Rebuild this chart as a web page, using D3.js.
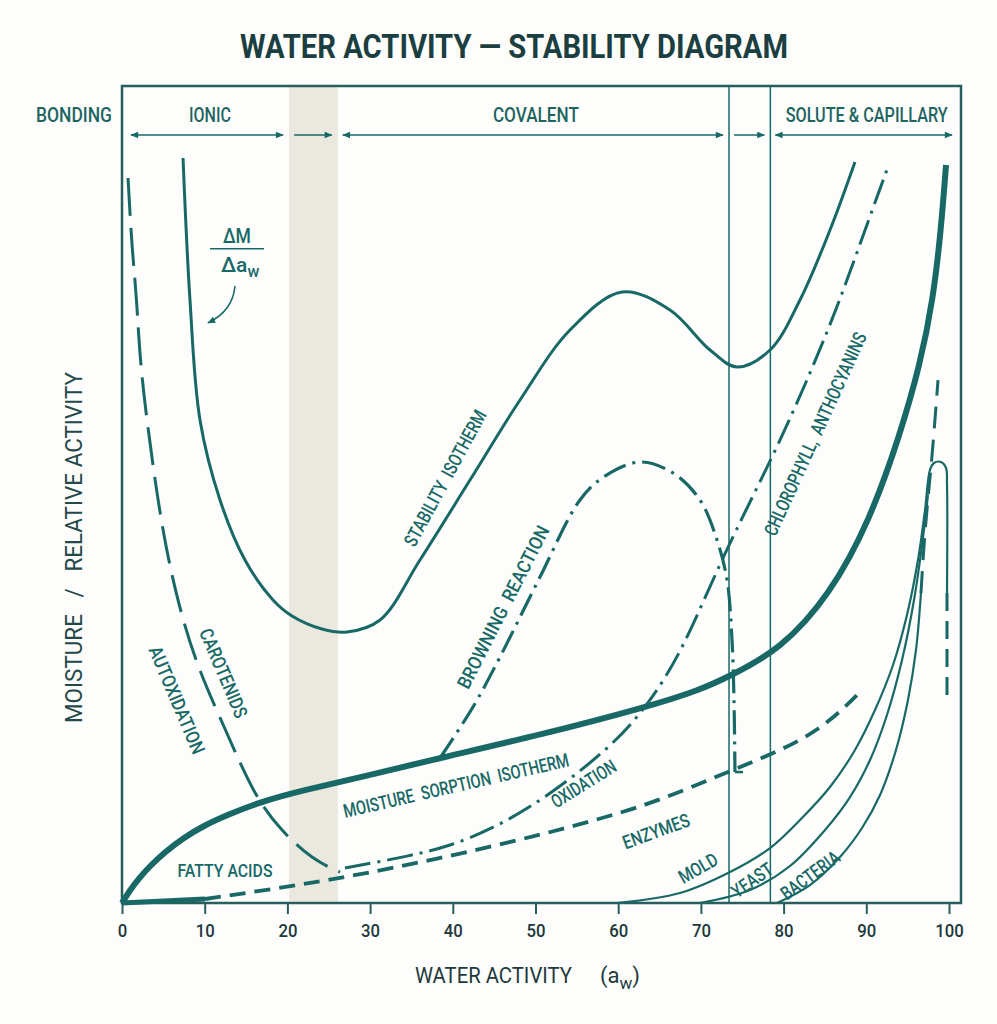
<!DOCTYPE html>
<html>
<head>
<meta charset="utf-8">
<script src="https://cdn.jsdelivr.net/npm/d3@7"></script>
<style>
  body { margin: 0; background: #fdfdfc; }
  svg text { font-family: Roboto, "Liberation Sans", sans-serif; font-weight: 500; }
</style>
</head>
<body>
<svg id="chart" width="997" height="1024"></svg>
<script>
// ---- data (x = water activity x100, y = relative moisture / activity 0-100) ----
const xTicks = [0, 10, 20, 30, 40, 50, 60, 70, 80, 90, 100];

// bonding zones along the top
const bondEdges = [0, 20.2, 26.1, 73.4, 78.4, 101.4];
const bondNames = ["IONIC", "", "COVALENT", "", "SOLUTE & CAPILLARY"];
const bondBothEnds = [true, false, true, false, true];

const bandRange = [20.2, 26.1];
const dividers = [73.4, 78.4];

const stabilityX = [7.38, 8.22, 9.43, 11.85, 14.87, 18.26, 20.56, 24.18, 27.21, 31.20, 36.03, 42.08, 48.13, 54.17, 60.46, 66.26, 71.10, 74.37, 78.36, 81.98, 85.61, 88.63];
const stabilityY = [91.19, 73.81, 59.12, 49.33, 41.98, 37.09, 35.13, 33.54, 33.17, 34.64, 41.98, 51.77, 61.57, 70.13, 74.79, 72.58, 67.69, 65.61, 67.69, 73.81, 82.37, 90.70];

const carotenoidX = [0.73, 1.21, 1.81, 2.18, 3.75, 4.96, 6.65, 9.07, 12.70, 15.84, 19.10, 23.10, 26.36];
const carotenoidY = [88.74, 79.93, 73.81, 65.61, 53.37, 45.29, 37.09, 28.89, 20.81, 13.46, 8.94, 5.26, 3.79];

const sorptionX = [0, 0.97, 2.18, 3.39, 5.20, 7.38, 10.04, 12.70, 16.69, 21.52, 29.99, 38.45, 50.54, 63.48, 69.89, 73.52, 79.56, 85.61, 90.45, 94.07, 96.49, 98.07, 99.03, 99.64];
const sorptionY = [0, 1.59, 3.18, 4.53, 6.24, 7.96, 9.55, 10.77, 12.36, 13.71, 15.67, 17.75, 20.56, 23.99, 26.07, 27.79, 30.97, 37.70, 46.88, 57.28, 65.85, 73.81, 82.37, 90.33];

const fattySolidX = [0, 10.04];
const fattySolidY = [0, 0.49];
const fattyX = [10.04, 19.10, 27.21, 37.61, 51.75, 63.84, 72.31, 80.77, 85.61, 89.48];
const fattyY = [0.49, 1.84, 3.18, 5.26, 8.57, 12.00, 15.67, 19.09, 22.15, 26.07];

const browningX = [38.45, 42.44, 45.71, 50.54, 55.38, 58.40, 62.64, 66.63, 69.89, 71.95, 73.16, 73.76, 74.00, 74.12];
const browningY = [17.75, 23.99, 30.11, 39.90, 49.33, 52.26, 53.98, 52.63, 49.33, 44.43, 39.53, 32.19, 24.85, 16.03];
const browningFootX = [74.12, 75.09];
const browningFootY = [16.03, 16.03];

const oxidationX = [26.96, 34.82, 39.66, 44.50, 50.54, 58.77, 63.48, 67.84, 72.67, 78.72, 83.56, 86.82, 89.84, 92.62];
const oxidationY = [4.28, 5.75, 6.98, 8.94, 12.36, 18.73, 23.99, 30.97, 42.60, 54.59, 65.61, 73.81, 82.37, 90.09];

const moldX = [59.86, 67.47, 73.52, 78.36, 81.98, 85.61, 88.63, 91.05, 93.23, 94.92, 96.25, 97.10, 97.70, 98.19, 99.03, 99.64, 99.76, 99.76];
const moldY = [0, 1.22, 3.79, 6.73, 10.16, 14.20, 18.73, 23.62, 29.13, 35.25, 41.98, 48.10, 53.00, 53.86, 53.98, 53.24, 51.16, 37.94];
const moldTailX = [99.76, 99.76];
const moldTailY = [37.94, 24.85];

const yeastX = [69.89, 75.94, 80.77, 85.01, 88.03, 90.45, 92.50, 94.32, 95.77, 96.74, 97.46];
const yeastY = [0, 1.59, 4.53, 8.94, 12.97, 17.50, 23.01, 29.74, 37.09, 43.82, 49.94];

const bacteriaX = [79.20, 83.19, 86.82, 89.48, 91.66, 93.59, 95.04, 96.01, 96.61];
const bacteriaY = [0, 2.20, 5.63, 9.18, 13.22, 18.73, 24.85, 30.97, 37.94];
const bacteriaTailX = [96.61, 97.10, 97.94, 98.67];
const bacteriaTailY = [37.94, 46.02, 54.22, 64.01];

// curve labels
const labelText = ["STABILITY  ISOTHERM", "BROWNING  REACTION", "CHLOROPHYLL,  ANTHOCYANINS", "CAROTENIDS", "AUTOXIDATION",
  "MOISTURE  SORPTION  ISOTHERM", "OXIDATION", "ENZYMES", "FATTY ACIDS", "MOLD", "YEAST", "BACTERIA"];
const labelX = [39.06, 46.07, 83.80, 12.30, 6.65, 40.39, 55.80, 64.57, 12.45, 69.65, 76.18, 83.19];
const labelY = [52.02, 36.23, 57.41, 28.15, 24.85, 14.40, 14.60, 8.81, 4.04, 4.28, 2.82, 3.43];
const labelAngle = [-61.5, -63, -65.5, 67, 67, -13, -32, -20, 0, -29.6, -35, -36.5];
const labelWidths = [152, 180, 221, 95, 115, 231, 73, 70, 95, 42, 46, 68];

// ---- drawing ----
const teal = "#186966";
const svg = d3.select("#chart");

const x = d3.scaleLinear().domain([0, 100]).range([122, 949]);
const y = d3.scaleLinear().domain([0, 100]).range([903, 86]);
const frameRight = 961;

// squeeze text to the reference width (the reference uses a condensed face)
function fit(sel, len) {
    return sel.attr("textLength", len).attr("lengthAdjust", "spacingAndGlyphs");
}

const defs = svg.append("defs");
defs.append("marker")
    .attr("id", "head")
    .attr("viewBox", "0 0 10 10")
    .attr("refX", 9).attr("refY", 5)
    .attr("markerWidth", 11).attr("markerHeight", 8)
    .attr("markerUnits", "userSpaceOnUse")
    .attr("orient", "auto-start-reverse")
    .append("path")
    .attr("d", "M0,1 L10,5 L0,9 Z")
    .attr("fill", teal);

// title
fit(svg.append("text")
    .attr("x", 240).attr("y", 58)
    .attr("font-size", 33).style("font-weight", "bold")
    .attr("fill", "#1b3f40")
    .text("WATER ACTIVITY \u2014 STABILITY DIAGRAM"), 548);

// shaded band
svg.append("rect")
    .attr("x", x(bandRange[0])).attr("y", y(100))
    .attr("width", x(bandRange[1]) - x(bandRange[0]))
    .attr("height", y(0) - y(100))
    .attr("fill", "#ebe8e0");

// divider lines
svg.selectAll(".divider").data(dividers).enter().append("line")
    .attr("class", "divider")
    .attr("x1", d => x(d)).attr("x2", d => x(d))
    .attr("y1", y(100)).attr("y2", y(0))
    .attr("stroke", teal).attr("stroke-width", 1.5);

// frame
svg.append("rect")
    .attr("x", x(0)).attr("y", y(100))
    .attr("width", frameRight - x(0)).attr("height", y(0) - y(100))
    .attr("fill", "none").attr("stroke", "#285e5d").attr("stroke-width", 2.5);

// bonding header
fit(svg.append("text")
    .attr("x", 36).attr("y", y(95.6))
    .attr("font-size", 20).attr("fill", "#1d6461")
    .text("BONDING"), 76);

const headerWidths = [42, 0, 86, 0, 162];
bondNames.forEach((name, i) => {
    let last = i === bondNames.length - 1;
    let x0 = x(bondEdges[i]) + (i === 0 ? 9 : 5);
    let x1 = last ? frameRight - 9 : x(bondEdges[i + 1]) - 6;
    svg.append("line")
        .attr("x1", x0).attr("x2", x1)
        .attr("y1", y(94.0)).attr("y2", y(94.0))
        .attr("stroke", teal).attr("stroke-width", 1.5)
        .attr("marker-end", "url(#head)")
        .attr("marker-start", bondBothEnds[i] ? "url(#head)" : null);
    if (name) {
        let cx = (x0 + x1) / 2 + 3;
        fit(svg.append("text")
            .attr("x", cx - headerWidths[i] / 2).attr("y", y(95.6))
            .attr("font-size", 20).attr("fill", "#1d6461")
            .text(name), headerWidths[i]);
    }
});

// x axis
const xAxis = d3.axisBottom(x).tickValues(xTicks).tickSize(11).tickPadding(10);
const gx = svg.append("g").attr("transform", "translate(0," + y(0) + ")").call(xAxis);
gx.select(".domain").remove();
gx.selectAll(".tick line").attr("stroke", "#285e5d").attr("stroke-width", 2);
gx.selectAll(".tick text")
    .attr("font-size", 19).attr("fill", "#21393a")
    .style("font-family", "Roboto, 'Liberation Sans', sans-serif")
    .attr("textLength", d => String(d).length * 9.5)
    .attr("lengthAdjust", "spacingAndGlyphs");

// axis titles
fit(svg.append("text")
    .attr("x", 415).attr("y", 983)
    .attr("font-size", 22).attr("fill", "#21393a")
    .style("font-weight", 400)
    .text("WATER ACTIVITY"), 157);
const aw = svg.append("text")
    .attr("x", 600).attr("y", 983)
    .attr("font-size", 22).attr("fill", "#21393a")
    .style("font-weight", 400);
aw.append("tspan").text("(a");
aw.append("tspan").attr("font-size", 17).attr("dy", 6).text("w");
aw.append("tspan").attr("dy", -6).text(")");

fit(svg.append("text")
    .attr("transform", "translate(82,723) rotate(-90)")
    .attr("font-size", 23).attr("fill", "#24494a")
    .style("font-weight", 400)
    .style("white-space", "pre")
    .text("MOISTURE   /   RELATIVE ACTIVITY"), 351);

// curves
const pts = (xs, ys) => xs.map((v, i) => [v, ys[i]]);
const smooth = d3.line().x(d => x(d[0])).y(d => y(d[1])).curve(d3.curveBasis);
const through = d3.line().x(d => x(d[0])).y(d => y(d[1])).curve(d3.curveCatmullRom.alpha(0.5));
const straight = d3.line().x(d => x(d[0])).y(d => y(d[1]));

const curves = [
    {d: pts(stabilityX, stabilityY), w: 3, gen: through},
    {d: pts(carotenoidX, carotenoidY), w: 3, dash: "38,12", gen: smooth},
    {d: pts(fattyX, fattyY), w: 3.8, dash: "16,9", gen: smooth},
    {d: pts(fattySolidX, fattySolidY), w: 5, gen: straight},
    {d: pts(browningX, browningY), w: 3.2, dash: "24,7,3,7", gen: through},
    {d: pts(browningFootX, browningFootY), w: 2.5, gen: straight},
    {d: pts(oxidationX, oxidationY), w: 3, dash: "26,7,3,7", gen: smooth},
    {d: pts(moldX, moldY), w: 2.2, gen: through},
    {d: pts(moldTailX, moldTailY), w: 3, dash: "18,10", gen: straight},
    {d: pts(yeastX, yeastY), w: 2.2, gen: through},
    {d: pts(bacteriaX, bacteriaY), w: 2.2, gen: through},
    {d: pts(bacteriaTailX, bacteriaTailY), w: 3, dash: "22,11", gen: smooth},
    {d: pts(sorptionX, sorptionY), w: 6, gen: smooth}
];

svg.append("g").selectAll("path").data(curves).enter().append("path")
    .attr("d", c => c.gen(c.d))
    .attr("fill", "none")
    .attr("stroke", teal)
    .attr("stroke-width", c => c.w)
    .attr("stroke-dasharray", c => c.dash || null);

// curve labels
svg.append("g").selectAll("text").data(labelText).enter().append("text")
    .attr("transform", (t, i) => "translate(" + x(labelX[i]) + "," + y(labelY[i]) + ") rotate(" + labelAngle[i] + ")")
    .attr("x", (t, i) => -labelWidths[i] / 2)
    .attr("dy", "0.36em")
    .attr("font-size", 19)
    .attr("fill", teal)
    .style("white-space", "pre")
    .attr("textLength", (t, i) => labelWidths[i])
    .attr("lengthAdjust", "spacingAndGlyphs")
    .text(t => t);

// dM / daw annotation
const ax = x(13.9), ay = y(80.8);
fit(svg.append("text").attr("x", ax - 14).attr("y", ay)
    .attr("font-size", 21).attr("fill", teal)
    .text("\u0394M"), 28);
svg.append("line")
    .attr("x1", ax - 27).attr("x2", ax + 27)
    .attr("y1", ay + 6).attr("y2", ay + 6)
    .attr("stroke", teal).attr("stroke-width", 1.5);
const frac = svg.append("text").attr("x", ax - 16).attr("y", ay + 29)
    .attr("font-size", 21).attr("fill", teal);
frac.append("tspan").text("\u0394a");
frac.append("tspan").attr("font-size", 16).attr("dy", 5).text("w");
svg.append("path")
    .attr("d", "M" + (ax - 2) + "," + (ay + 43) + " Q" + (ax - 4) + "," + (ay + 68) + " " + (ax - 29) + "," + (ay + 80))
    .attr("fill", "none").attr("stroke", teal).attr("stroke-width", 1.5)
    .attr("marker-end", "url(#head)");
</script>
</body>
</html>
